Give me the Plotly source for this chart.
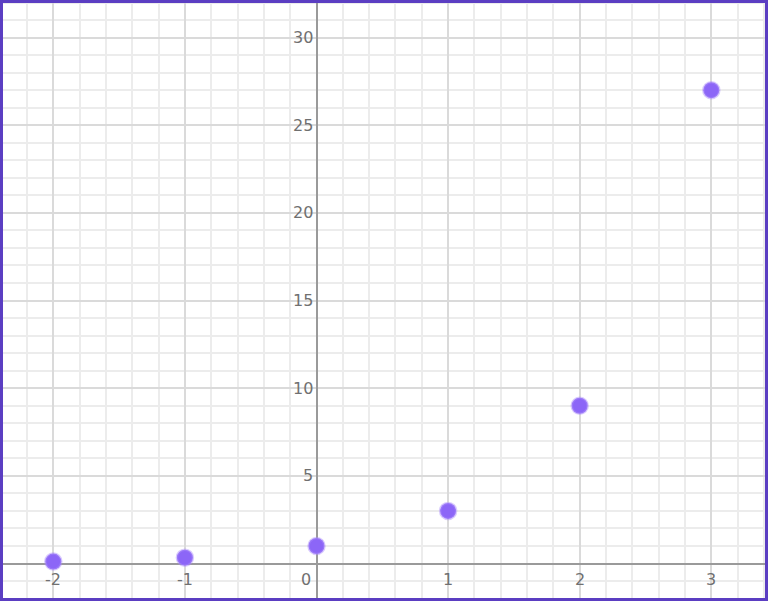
import plotly.graph_objects as go

x_vals = [-2, -1, 0, 1, 2, 3]
y_vals = [1/9, 1/3, 1, 3, 9, 27]

x_tick_vals = [-2, -1, 1, 2, 3]
x_tick_text = ["-2", "-1", "1", "2", "3"]
y_tick_vals = [5, 10, 15, 20, 25, 30]
y_tick_text = ["5", "10", "15", "20", "25", "30"]

W, H = 768, 601
x0_px, x_scale = 316.5, 131.6
y0_px, y_scale = 563.5, 17.53
x_range = [-x0_px / x_scale, (W - x0_px) / x_scale]
y_range = [-(H - y0_px) / y_scale, y0_px / y_scale]

fig = go.Figure()

fig.add_trace(go.Scatter(
    x=x_vals, y=y_vals, mode="markers",
    marker=dict(size=16, color="#8c66f7",
                line=dict(width=2.5, color="rgba(170,140,250,0.45)")),
    hoverinfo="x+y", showlegend=False,
))

label_font = dict(family="DejaVu Sans", size=16, color="#707070")
annotations = []
for v, t in zip(x_tick_vals, x_tick_text):
    annotations.append(dict(x=v, y=0, xref="x", yref="y", text=t, showarrow=False,
                            xanchor="center", yanchor="top", yshift=-4, font=label_font))
for v, t in zip(y_tick_vals, y_tick_text):
    annotations.append(dict(x=0, y=v, xref="x", yref="y", text=t, showarrow=False,
                            xanchor="right", yanchor="middle", xshift=-2, font=label_font))
annotations.append(dict(x=0, y=0, xref="x", yref="y", text="0", showarrow=False,
                        xanchor="right", yanchor="top", xshift=-4, yshift=-4, font=label_font))

fig.update_layout(
    width=W, height=H,
    margin=dict(l=0, r=0, t=0, b=0),
    paper_bgcolor="white", plot_bgcolor="white",
    xaxis=dict(range=x_range, showticklabels=False, ticks="",
               dtick=1, tick0=0, showgrid=True, gridcolor="#dadada", gridwidth=1.5,
               minor=dict(dtick=0.2, tick0=0, showgrid=True, gridcolor="#ececec", gridwidth=1.5),
               zeroline=True, zerolinecolor="#9a9a9a", zerolinewidth=2, fixedrange=True),
    yaxis=dict(range=y_range, showticklabels=False, ticks="",
               dtick=5, tick0=0, showgrid=True, gridcolor="#dadada", gridwidth=1.5,
               minor=dict(dtick=1, tick0=0, showgrid=True, gridcolor="#ececec", gridwidth=1.5),
               zeroline=True, zerolinecolor="#9a9a9a", zerolinewidth=2, fixedrange=True),
    annotations=annotations,
    shapes=[dict(type="rect", xref="paper", yref="paper", x0=0, x1=1, y0=0, y1=1,
                 line=dict(color="#5b3ec2", width=6), layer="above")],
)

fig.write_html("out.html", config={"displayModeBar": False},
               post_script="document.body.style.margin='0';document.body.style.overflow='hidden';")
